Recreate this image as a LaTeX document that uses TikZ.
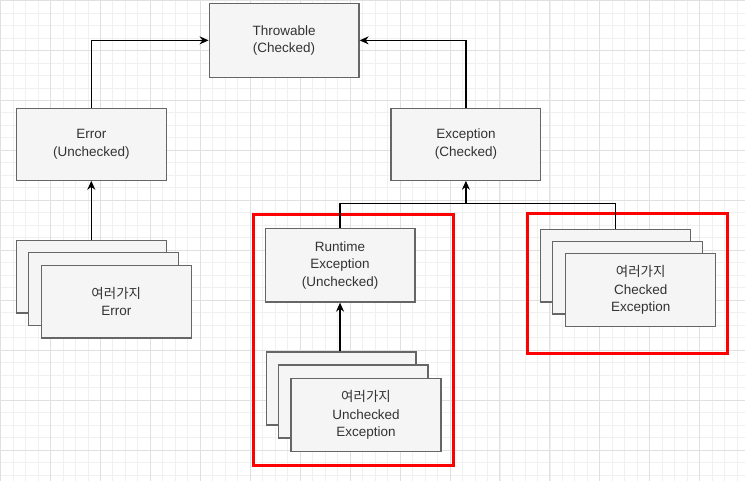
\documentclass[tikz,border=0pt]{standalone}
\usepackage{fontspec}
\setmainfont{Liberation Sans}
\newfontfamily\kr{Noto Sans CJK KR}
\usetikzlibrary{arrows.meta}
\definecolor{bx}{HTML}{F5F5F5}
\definecolor{bd}{HTML}{666666}
\definecolor{tx}{HTML}{333333}
\begin{document}
\begin{tikzpicture}[x=1pt,y=-1pt,
  box/.style={draw=bd,fill=bx,line width=1.2pt,minimum width=150pt,minimum height=73pt,inner sep=0pt,align=center,text=tx,font=\fontsize{13.5}{17.5}\selectfont},
  arr/.style={line width=1.2pt,-{Stealth[length=9pt,width=8pt]}},
  red/.style={draw=red,line width=3pt}]
\fill[white] (0,0) rectangle (745,481);
\foreach \i in {0,12.5,...,745} \draw[black!6,line width=0.6pt] (\i,0) -- (\i,481);
\foreach \i in {0,12.5,...,481} \draw[black!6,line width=0.6pt] (0,\i) -- (745,\i);
\foreach \i in {0,50,...,745} \draw[black!12,line width=0.8pt] (\i,0) -- (\i,481);
\foreach \i in {0,50,...,481} \draw[black!12,line width=0.8pt] (0,\i) -- (745,\i);
\useasboundingbox (0,0) rectangle (745,481);
\node[box,minimum height=74pt] (thr) at (284,40) {Throwable\\(Checked)};
\node[box,minimum height=72pt] (err) at (91,144) {Error\\(Unchecked)};
\node[box,minimum height=72pt] (exc) at (466,144) {Exception\\(Checked)};
\node[box] (e1) at (91,276.5) {};
\node[box] (e2) at (103,289) {};
\node[box] (e3) at (116,301.5) {{\kr 여러가지}\\Error};
\node[box,minimum height=74pt] (rt) at (340,265) {Runtime\\Exception\\(Unchecked)};
\node[box] (u1) at (341,388.5) {};
\node[box] (u2) at (353,401.5) {};
\node[box] (u3) at (366,415) {{\kr 여러가지}\\Unchecked\\Exception};
\node[box] (c1) at (616,265.5) {};
\node[box] (c2) at (628,277.5) {};
\node[box] (c3) at (641,290) {{\kr 여러가지}\\Checked\\Exception};
\draw[red] (253,214) rectangle (454,466);
\draw[red] (528,213) rectangle (728,353);
\coordinate (j) at (466,203);
\draw[arr] (err.north) |- (thr.west);
\draw[arr] (exc.north) |- (thr.east);
\draw[arr] (rt.north) |- (j) -- (exc.south);
\draw[line width=1.2pt] (c1.north) |- (j);
\draw[arr] (e1.north) -- (err.south);
\draw[arr] (u1.north -| rt.south) -- (rt.south);
\end{tikzpicture}
\end{document}
